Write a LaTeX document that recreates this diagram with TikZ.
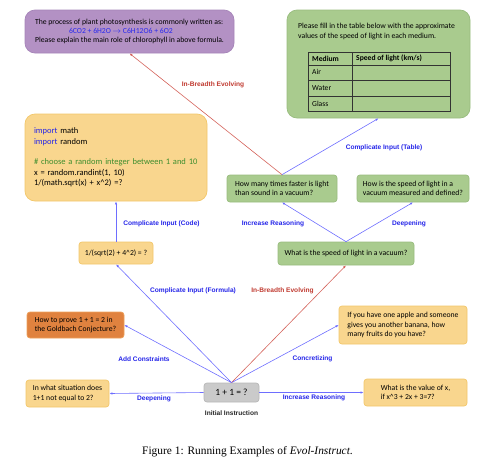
\documentclass[tikz,border=0pt]{standalone}
\usepackage{fontspec}
\setmainfont{Carlito}
\newfontfamily\labfont{Liberation Sans}
\newfontfamily\capfont{Liberation Serif}
\usetikzlibrary{arrows.meta}
\definecolor{purplefill}{HTML}{B391C4}
\definecolor{purpleline}{HTML}{A584B8}
\definecolor{greenfill}{HTML}{A9CB8E}
\definecolor{greenline}{HTML}{98BC7E}
\definecolor{yelfill}{HTML}{F9D68E}
\definecolor{yelline}{HTML}{F2C76A}
\definecolor{orfill}{HTML}{E0823F}
\definecolor{orline}{HTML}{EDA15C}
\definecolor{greyfill}{HTML}{CACACA}
\definecolor{greyline}{HTML}{B8B8B8}
\definecolor{labblue}{HTML}{2424E8}
\definecolor{arrblue}{HTML}{6E6EFF}
\definecolor{labred}{HTML}{C03A30}
\definecolor{arrred}{HTML}{D4625A}
\definecolor{codegreen}{HTML}{3E8E2E}
\definecolor{eqblue}{HTML}{2A2AEE}
\begin{document}
\begin{tikzpicture}[x=1pt,y=-1pt,
  box/.style={draw, line width=0.7pt, inner sep=0pt, align=left, font=\fontsize{7.7}{9.4}\selectfont},
  bigbox/.style={box, rounded corners=10pt},
  smallbox/.style={box, rounded corners=3pt},
  yel/.style={fill=yelfill, draw=yelline},
  grn/.style={fill=greenfill, draw=greenline},
  lab/.style={font=\labfont\bfseries\fontsize{6.6}{7.5}\selectfont, inner sep=0pt},
  blab/.style={lab, text=labblue},
  rlab/.style={lab, text=labred},
  barr/.style={draw=arrblue, line width=0.6pt, -{Latex[length=3pt,width=2.4pt]}},
  rarr/.style={draw=arrred, line width=0.6pt, -{Latex[length=3pt,width=2.4pt]}},
  cell/.style={font=\fontsize{7.6}{8}\selectfont, inner sep=0pt, anchor=west}
]
\useasboundingbox (0,0) rectangle (500,461);

% top purple box
\node[bigbox, fill=purplefill, draw=purpleline, minimum width=209pt, minimum height=43pt, align=left]
  (photo) at (129.5,31.5) {The process of plant photosynthesis is commonly written as:\\
  \hspace*{34pt}\textcolor{eqblue}{6CO2 + 6H2O $\rightarrow$ C6H12O6 + 6O2}\\
  Please explain the main role of chlorophyll in above formula.};

% table box
\node[bigbox, grn, minimum width=183pt, minimum height=108pt] (table) at (378.5,64) {};
\node[anchor=west, inner sep=0pt, align=left, font=\fontsize{7.7}{9.4}\selectfont] (tabletext) at (298,31.5)
  {Please fill in the table below with the approximate\\values of the speed of light in each medium.};
\draw[line width=0.7pt, draw=black!80] (308,52) rectangle (450,111);
\draw[line width=0.6pt, draw=black!80] (352,52) -- (352,111)
  (308,65) -- (450,65) (308,80) -- (450,80) (308,96) -- (450,96);
\node[cell] (c1) at (312,58.5) {\bfseries Medium};
\node[cell] (c2) at (356,58.5) {\bfseries Speed of light (km/s)};
\node[cell] (c3) at (312,72) {Air};
\node[cell] (c4) at (312,88) {Water};
\node[cell] (c5) at (312,103.5) {Glass};

% code box
\node[bigbox, yel, minimum width=182pt, minimum height=87pt, text width=164pt, inner xsep=9pt,
  font=\fontsize{8.5}{10.4}\selectfont] (code) at (116,157.5)
  {\textcolor{labblue}{import} math\\
   \textcolor{labblue}{import} random\\[10.4pt]
   \textcolor{codegreen}{\# choose a random integer between 1 and 10}\\
   x = random.randint(1, 10)\\
   1/(math.sqrt(x) + x\^{}2) =?};

% formula box
\node[smallbox, yel, minimum width=74pt, minimum height=22pt, align=center] (formula) at (116,253)
  {1/(sqrt(2) + 4\^{}2) = ?};

% green question boxes
\node[smallbox, grn, minimum width=110pt, minimum height=27pt] (faster) at (282,188.5)
  {How many times faster is light\\than sound in a vacuum?};
\node[smallbox, grn, minimum width=112pt, minimum height=27pt] (measured) at (413,188.5)
  {How is the speed of light in a\\vacuum measured and defined?};
\node[smallbox, grn, minimum width=136pt, minimum height=23pt, align=center] (vacuum) at (346,253.5)
  {What is the speed of light in a vacuum?};

% bottom boxes
\node[smallbox, fill=orfill, draw=orline, minimum width=97pt, minimum height=26pt] (goldbach) at (75.5,325)
  {How to prove 1 + 1 = 2 in\\the Goldbach Conjecture?};
\node[smallbox, yel, minimum width=83pt, minimum height=27pt] (situation) at (67.5,393.5)
  {In what situation does\\1+1 not equal to 2?};
\node[smallbox, yel, minimum width=128pt, minimum height=38pt] (apple) at (403,325)
  {If you have one apple and someone\\gives you another banana, how\\many fruits do you have?};
\node[smallbox, yel, minimum width=103pt, minimum height=27pt] (value) at (415.5,392.5)
  {What is the value of x,\\if x\^{}3 + 2x + 3=7?};
\node[smallbox, fill=greyfill, draw=greyline, minimum width=55pt, minimum height=19pt, align=center,
  font=\fontsize{9.5}{11}\selectfont] (init) at (231.5,392.5) {1 + 1 = ?};
\node[lab, text=black!85] (initlab) at (231.5,413) {Initial Instruction};

% connectors
\draw[barr] (formula.north) -- (code.south);
\draw[barr] (vacuum.north) -- (faster.south);
\draw[barr] (vacuum.north) -- (measured.south);
\draw[rarr] (faster.north) -- (photo.south);
\draw[barr] (faster.north) -- (table.south);
\draw[barr] (init.north) -- (formula.south);
\draw[barr] (init.north) -- (goldbach.east);
\draw[rarr] (init.north) -- (vacuum.south);
\draw[barr] (init.north) -- (apple.west);
\draw[barr] (init.west) -- (situation.east);
\draw[barr] (init.east) -- (value.west);

% labels
\node[rlab] (l1) at (213,85) {In-Breadth Evolving};
\node[blab] (l2) at (384,148) {Complicate Input (Table)};
\node[blab] (l3) at (161.5,224) {Complicate Input (Code)};
\node[blab] (l4) at (273,224) {Increase Reasoning};
\node[blab] (l5) at (409,224) {Deepening};
\node[blab] (l6) at (193,291) {Complicate Input (Formula)};
\node[rlab] (l7) at (282.5,291) {In-Breadth Evolving};
\node[blab] (l8) at (144,359) {Add Constraints};
\node[blab] (l9) at (312.5,359) {Concretizing};
\node[blab] (l10) at (154,399) {Deepening};
\node[blab] (l11) at (314,398) {Increase Reasoning};

% caption
\node[font=\capfont\fontsize{11.4}{13}\selectfont, inner sep=0pt] (caption) at (247.5,452)
  {Figure 1: Running Examples of \textit{Evol-Instruct}.};
\end{tikzpicture}
\end{document}
